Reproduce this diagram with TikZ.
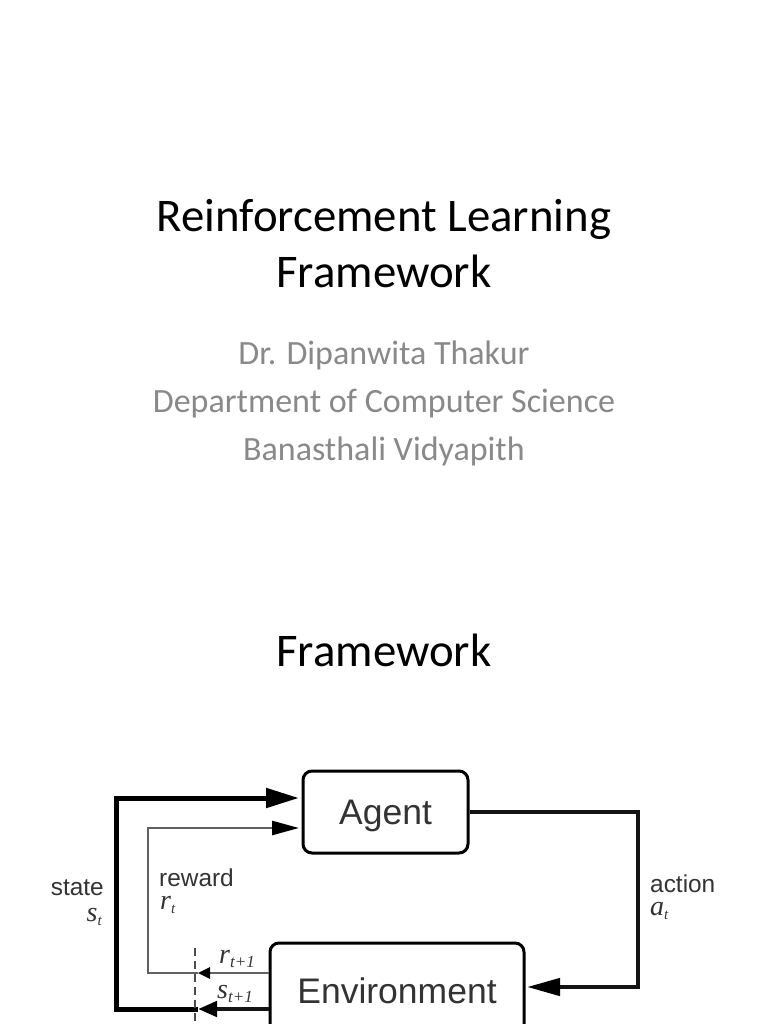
\documentclass[tikz,border=0pt]{standalone}
\usepackage{fontspec}
\setmainfont{Carlito}
\newfontfamily\labelfont{Liberation Sans}
\newfontfamily\symfont[Ligatures=TeX]{Liberation Serif}
\usetikzlibrary{arrows.meta}
\definecolor{subgray}{HTML}{898989}
\definecolor{inkgray}{HTML}{333333}
\tikzset{
  x=1pt,y=-1pt,
  titletext/.style={font=\fontsize{46.8}{54}\selectfont,text=black,inner sep=0pt,anchor=center},
  subtext/.style={font=\fontsize{34}{40}\selectfont,text=subgray,inner sep=0pt,anchor=center},
  boxnode/.style={draw=black,line width=3pt,rounded corners=9pt,inner sep=0pt,font=\labelfont\fontsize{35.5}{40}\selectfont,text=inkgray,text height=25pt,text depth=0pt},
  lab/.style={font=\labelfont\fontsize{24.4}{27}\selectfont,text=inkgray,inner sep=0pt},
  sym/.style={font=\symfont\itshape\fontsize{28}{30}\selectfont,text=inkgray,inner sep=0pt},
  thickline/.style={draw=black,line width=5pt,line join=miter},
  midline/.style={draw=black!92,line width=4.4pt,line join=miter},
  thinline/.style={draw=black!62,line width=2.6pt,line join=miter},
  bigtip/.style={-{Triangle[length=33pt,width=19pt]}},
  rewardtip/.style={-{Triangle[length=27pt,width=14pt,color=black]}},
  acttip/.style={-{Triangle[length=33pt,width=17pt,color=black]}},
  stip/.style={-{Triangle[length=19pt,width=15pt,color=black]}},
  rtip/.style={-{Triangle[length=12pt,width=11pt,color=black]}},
}
\begin{document}
\begin{tikzpicture}
\useasboundingbox (0,0) rectangle (768,1024);
\fill[white] (0,0) rectangle (768,1024);
\clip (0,0) rectangle (768,1024);

\node[titletext] (t1) at (384,219) {Reinforcement Learning};
\node[titletext] (t2) at (384,271.5) {Framework};
\node[subtext] (s1) at (384,355) {Dr. Dipanwita Thakur};
\node[subtext] (s2) at (384,403.5) {Department of Computer Science};
\node[subtext] (s3) at (384,451) {Banasthali Vidyapith};
\node[titletext] (t3) at (384,650) {Framework};

\node[boxnode,minimum width=165pt,minimum height=82pt] (agent) at (385.5,812) {Agent};
\node[boxnode,minimum width=254pt,minimum height=96pt] (env) at (397,991) {Environment};

\coordinate (stateIn) at (299,798);
\coordinate (rewardIn) at (299,828);
\coordinate (actOut) at (agent.east);
\coordinate (actIn) at (527,987);
\coordinate (rOut) at (env.west |- 0,973);
\coordinate (sOut) at (env.west |- 0,1009);
\coordinate (rTip) at (198,973);
\coordinate (sTip) at (198,1009);
\coordinate (cutTop) at (195,948);
\coordinate (cutBot) at (195,1024);

% state loop
\draw[thickline] (sTip) -- (116,1009) -- (116,798) -- (270,798);
\draw[thickline,bigtip] (270,798) -- (stateIn);
\draw[midline,stip] (sOut) -- (sTip);
% reward loop
\draw[thinline] (rTip) -- (148,973) -- (148,828) -- (275,828);
\draw[thinline,rewardtip] (275,828) -- (rewardIn);
\draw[thinline,rtip] (rOut) -- (rTip);
% action
\draw[midline,acttip] (actOut) -- (638,812) -- (638,987) -- (actIn);
% time cut
\draw[draw=black!70,line width=1.3pt,dash pattern=on 8pt off 5pt] (cutTop) -- (cutBot);

\node[lab,anchor=base east] (state) at (104,895) {state};
\node[sym,anchor=base east] (st) at (102,921) {s\raisebox{-4pt}{\fontsize{15}{15}\selectfont t}};
\node[lab,anchor=base west] (reward) at (159,886) {reward};
\node[sym,anchor=base west] (rt) at (160,909) {r\raisebox{-4pt}{\fontsize{15}{15}\selectfont t}};
\node[lab,anchor=base west] (action) at (650,892) {action};
\node[sym,anchor=base west] (at) at (650,915) {a\raisebox{-4pt}{\fontsize{15}{15}\selectfont t}};
\node[sym,anchor=base west] (rnext) at (219,963) {r\raisebox{-4pt}{\fontsize{17}{17}\selectfont t+1}};
\node[sym,anchor=base west] (snext) at (217,998) {s\raisebox{-4pt}{\fontsize{17}{17}\selectfont t+1}};
\end{tikzpicture}
\end{document}
